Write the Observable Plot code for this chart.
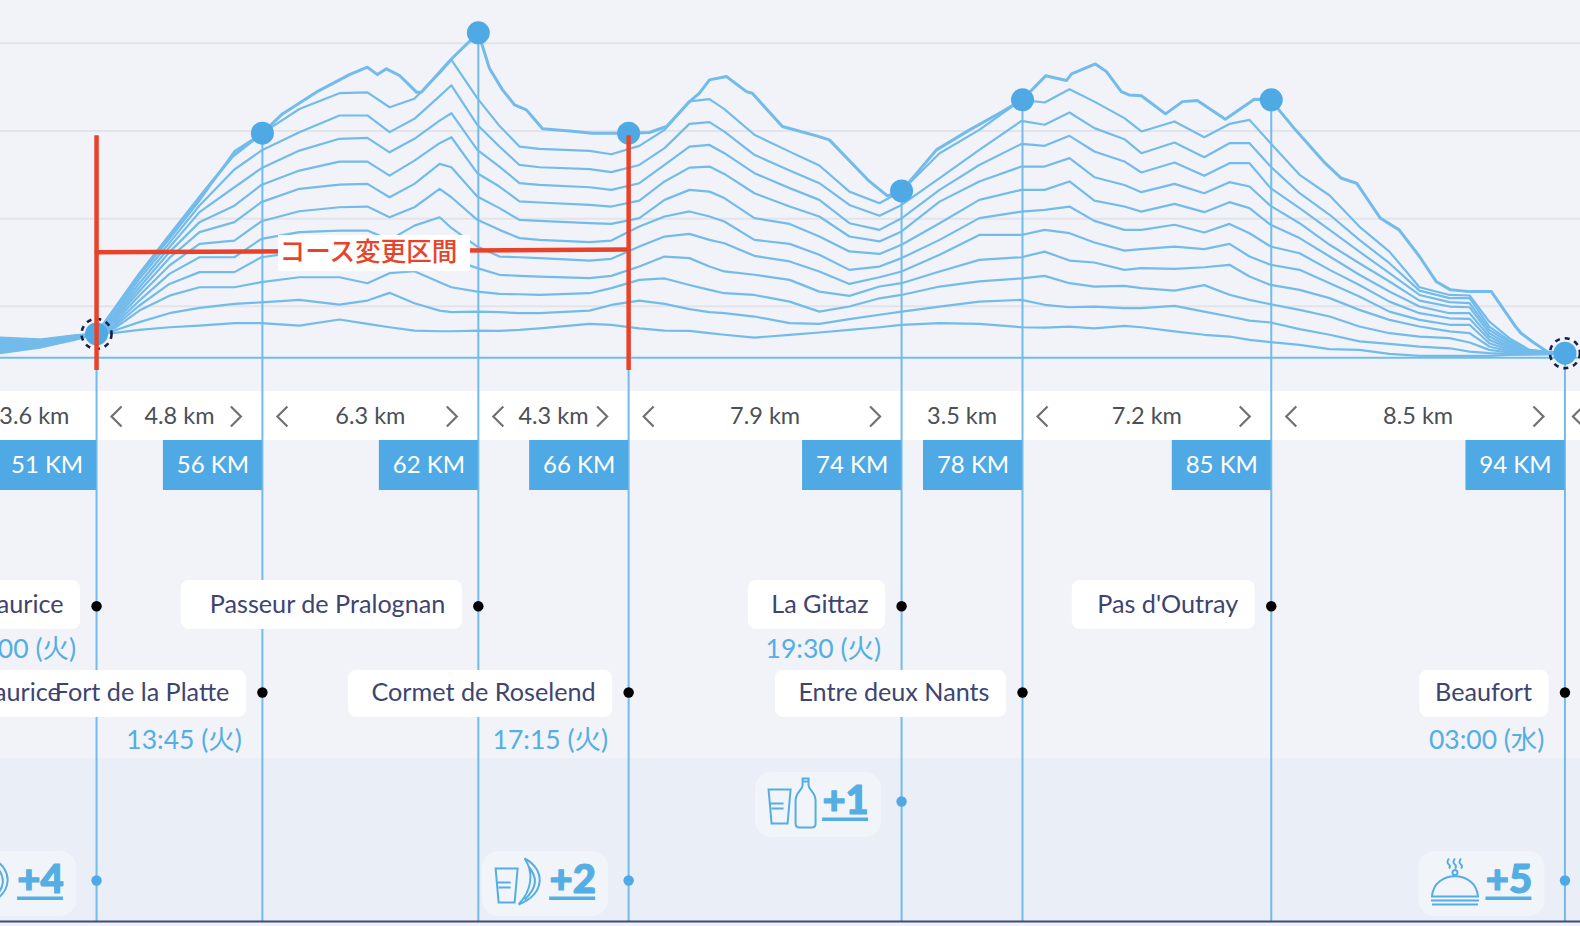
<!DOCTYPE html>
<html lang="ja">
<head>
<meta charset="utf-8">
<script src="https://cdn.jsdelivr.net/npm/d3@7"></script>
<script src="https://cdn.jsdelivr.net/npm/@observablehq/plot@0.6"></script>
<style>
html,body{margin:0;padding:0;background:#f1f3f8;overflow:hidden}
svg{display:block}
</style>
</head>
<body>
<script>
// ---------- course data ----------
const stationKm   = [51, 55.8, 62.05, 66.4, 74.3, 77.8, 85, 93.5];
const stationTags = ["51 KM","56 KM","62 KM","66 KM","74 KM","78 KM","85 KM","94 KM"];
const segmentKm   = ["3.6 km","4.8 km","6.3 km","4.3 km","7.9 km","3.5 km","7.2 km","8.5 km"];
const segmentHasArrows = [false,true,true,true,true,false,true,true];
const startKm = 47.4;

const gridElev = [2500, 2000, 1500, 1000];
const baseElev = 707;

const peakKm   = [55.8, 62.05, 66.4, 74.3, 77.8, 85];
const peakElev = [1987, 2559, 1987, 1658, 2177, 2177];
const endKm    = [51, 93.5];
const endElev  = [843, 733];

// top line, read on its own grid
const topKm = [48.19,49.35,50.36,51,51.52,52.24,53.11,53.98,54.93,55.8,56.38,57.36,58.32,58.84,59.13,59.39,59.77,60.26,60.4,61.27,62.05,62.37,62.75,63.1,63.44,63.73,63.91,64.69,65.35,66.4,67,67.5,68.16,68.45,68.74,69.23,69.81,69.98,70.85,71.84,72.21,73.37,73.89,74.3,75.31,76.27,77.13,77.79,78.47,79.07,79.22,79.6,79.91,80.23,80.66,80.88,81.24,81.53,81.94,82.43,82.86,83.67,84.51,84.98,85.7,86.56,87.03,87.47,88.16,88.7,89.29,89.77,90.19,90.74,91.37,92.07,92.23,92.55,92.98,93.5];
const topElev = [820,809,833,843,985,1185,1404,1622,1854,1987,2097,2221,2321,2363,2321,2354,2316,2221,2221,2410,2559,2357,2234,2148,2120,2054,2012,2000,1987,1987,1991,2025,2167,2215,2291,2310,2224,2215,2025,1972,1949,1712,1630,1658,1892,2006,2101,2177,2314,2287,2325,2357,2382,2338,2224,2205,2200,2158,2097,2167,2173,2067,2181,2177,2006,1816,1730,1702,1502,1436,1284,1142,1094,1084,1084,885,847,800,742,733];

// remaining ridge lines, read on a shared grid
const ridgeKm = [48.19,49.35,50.36,51,51.52,52.24,53.11,53.98,54.99,55.77,56.87,58.03,58.84,59.48,60.2,60.93,61.27,62.02,62.66,63.24,63.82,65.27,65.9,66.71,67.44,68.16,68.74,69.17,70.04,71.06,71.92,72.79,73.66,74.3,75.4,76.55,77.77,78.44,79.16,79.88,80.75,81.24,82.2,83.06,83.79,84.37,84.98,85.82,86.69,87.55,88.42,89.29,90.16,90.74,91.31,91.89,92.47,93.49];
const ridge2  = [813,807,832,843,976,1176,1385,1603,1884,1983,2125,2215,2220,2135,2183,2329,2405,2187,2029,1911,1898,1886,1867,1915,2006,2168,2181,2124,1978,1882,1803,1654,1588,1658,1873,2006,2177,2162,2238,2167,2073,1997,2054,1964,2040,2063,1930,1750,1632,1455,1312,1109,1065,1062,913,819,752,729];
const ridge3  = [805,803,830,843,957,1157,1362,1575,1780,1888,1993,2088,2088,1993,2069,2198,2260,2035,1911,1806,1793,1782,1765,1806,1902,2040,2050,1996,1864,1774,1702,1578,1516,1578,1731,1892,2057,2035,2105,2016,1953,1873,1934,1850,1930,1930,1797,1645,1522,1379,1246,1090,1047,1047,885,805,750,729];
const ridge4  = [797,799,828,843,948,1132,1337,1537,1679,1787,1888,1955,1960,1878,1955,2059,2101,1892,1797,1702,1692,1679,1664,1702,1806,1911,1920,1873,1759,1674,1607,1474,1436,1502,1664,1806,1926,1915,1972,1883,1826,1763,1820,1744,1816,1816,1674,1560,1436,1312,1189,1065,1024,1018,866,794,746,729];
const ridge5  = [790,796,826,843,934,1109,1309,1480,1574,1692,1774,1825,1825,1745,1831,1930,1964,1759,1683,1598,1592,1578,1569,1603,1712,1791,1797,1755,1645,1569,1512,1398,1370,1427,1597,1712,1797,1797,1845,1736,1692,1651,1698,1645,1708,1683,1573,1474,1351,1246,1142,1033,999,995,847,782,743,729];
const ridge6  = [780,792,824,843,923,1086,1276,1423,1480,1594,1670,1694,1698,1622,1698,1812,1793,1626,1560,1493,1487,1474,1470,1503,1607,1664,1654,1617,1503,1470,1398,1313,1299,1351,1474,1607,1664,1664,1712,1603,1569,1540,1584,1537,1594,1560,1465,1389,1284,1180,1085,999,961,961,828,771,741,729];
const ridge7  = [773,788,822,843,910,1062,1233,1356,1375,1485,1542,1565,1569,1508,1565,1670,1622,1493,1436,1389,1379,1366,1375,1455,1512,1541,1512,1484,1379,1356,1294,1208,1227,1275,1379,1503,1540,1550,1569,1487,1436,1436,1465,1421,1470,1417,1341,1303,1208,1122,1027,961,932,929,809,762,739,729];
const ridge8  = [765,784,820,843,896,1033,1185,1280,1280,1385,1423,1432,1432,1379,1460,1508,1447,1341,1284,1280,1275,1261,1271,1341,1398,1413,1379,1360,1288,1256,1199,1128,1166,1199,1294,1407,1407,1436,1417,1364,1318,1326,1341,1326,1356,1284,1237,1208,1132,1056,970,923,895,895,790,752,737,729];
const ridge9  = [758,780,816,843,885,1005,1128,1195,1195,1280,1309,1299,1309,1328,1375,1347,1270,1218,1180,1174,1170,1161,1174,1227,1284,1275,1227,1199,1180,1151,1084,1060,1113,1132,1199,1265,1280,1312,1261,1250,1208,1218,1214,1223,1237,1170,1122,1094,1047,980,923,885,857,847,771,743,735,729];
const ridge10 = [750,776,815,843,875,976,1061,1109,1109,1138,1166,1166,1132,1189,1200,1138,1109,1084,1071,1069,1065,1075,1104,1151,1159,1122,1094,1075,1065,1027,970,999,1046,1065,1113,1142,1160,1174,1132,1113,1117,1104,1090,1121,1066,1037,1012,980,942,885,847,828,819,794,752,737,733,729];
const ridge11 = [742,771,813,843,862,910,961,991,1014,1023,1037,1010,1033,1077,1018,976,967,970,967,961,961,976,1008,1033,1014,984,967,961,942,904,900,927,952,970,999,1027,1037,1009,995,999,990,990,1003,970,942,919,908,870,838,800,786,771,761,742,733,729,727,729];
const ridge12 = [733,765,809,843,849,866,881,890,904,904,890,925,900,881,862,858,858,862,860,866,875,900,894,875,862,860,847,838,822,838,851,866,881,894,904,900,881,879,885,875,889,881,857,838,828,809,796,780,756,752,729,718,718,718,718,723,725,729];
const ridges = [ridge2,ridge3,ridge4,ridge5,ridge6,ridge7,ridge8,ridge9,ridge10,ridge11,ridge12];

// annotation
const noteText = "コース変更区間";
const noteKm = [51, 66.4];
const noteHeadElev = [1308, 1324];

// place labels
const placeNames = ["aurice","Passeur de Pralognan","La Gittaz","Pas d'Outray","aurice","Fort de la Platte","Cormet de Roselend","Entre deux Nants","Beaufort"];
const placeKm    = [51,62.05,74.3,85,50.92,55.8,66.4,77.8,93.5];
const placeRow   = [0,0,0,0,1,1,1,1,1];
const placeTimes = ["00 (火)","","19:30 (火)","","","13:45 (火)","17:15 (火)","","03:00 (水)"];

// aid stations
const aidKm    = [51, 66.4, 74.3, 93.5];
const aidCount = ["+4","+2","+1","+5"];
const aidRow   = [1, 1, 0, 1];
const aidIcons = [["banana"],["glass","banana"],["glass","bottle"],["cloche"]];

// ---------- layout ----------
const W = 1580, chartH = 380, panelH = 546;
const xDomain = [48.22, 93.95];
const pxPerKm = W / (xDomain[1] - xDomain[0]);
const off = (km, px) => km + px / pxPerKm;
const placeBoxWidth = [300,281,137,183,300,191,264,231,129];
const labelRowY = [[580,629],[670,717]];
const labelRowCentre = [605.8, 692];
const labelTextY = [604.3, 692.5];
const timeRowY = [649.5, 739.6];
const aidRowY = [800, 879];
const iconOffset = {glass:-122, banana:-99, bottle:-96, cloche:-110};

// ---------- colours ----------
const blue = "#4fa9e4", line = "#72bbeb", pale = "#eaeef6", red = "#e8432a", ink = "#3e4470", grey = "#4b5056", tint = "#55aee3";
const sans = 'Lato, "Noto Sans CJK JP", sans-serif';

// ---------- custom icon symbols ----------
const chevL = {draw(c){c.moveTo(5,-10);c.lineTo(-5,0);c.lineTo(5,10);}};
const chevR = {draw(c){c.moveTo(-5,-10);c.lineTo(5,0);c.lineTo(-5,10);}};
const icons = {
  glass:{draw(c){c.moveTo(-11,-13);c.lineTo(11,-13);c.lineTo(8,21);c.lineTo(-8,21);c.closePath();
                 c.moveTo(-9,1);c.lineTo(4,1);c.moveTo(-8,6);c.lineTo(4,6);}},
  banana:{draw(c){c.moveTo(-5,-23);c.bezierCurveTo(16,-12,16,12,-11,23);c.bezierCurveTo(3,8,4,-10,-5,-23);c.closePath();
                  c.moveTo(-1,-15);c.bezierCurveTo(8,-4,8,6,-5,18);}},
  bottle:{draw(c){c.moveTo(-3,-24);c.lineTo(3,-24);c.lineTo(3,-17);c.bezierCurveTo(3,-13,10,-10,10,-2);c.lineTo(10,21);c.quadraticCurveTo(10,25,6,25);c.lineTo(-6,25);c.quadraticCurveTo(-10,25,-10,21);c.lineTo(-10,-2);c.bezierCurveTo(-10,-10,-3,-13,-3,-17);c.closePath();
                  c.moveTo(-4,-21);c.lineTo(4,-21);}},
  cloche:{draw(c){c.moveTo(-23,15);c.bezierCurveTo(-21,-12,21,-12,23,15);c.closePath();
                  c.moveTo(2.5,-9);c.arc(0,-9,2.5,0,Math.PI*2);
                  c.moveTo(-24,19);c.lineTo(24,19);c.moveTo(-23,23);c.lineTo(23,23);
                  for(const s of [-6,0,6]){c.moveTo(s,-23);c.quadraticCurveTo(s-3,-19,s,-17);c.quadraticCurveTo(s+2,-15,s,-13);}}}
};

// ---------- derived tables ----------
const stations = stationKm.map((km,i)=>({km, tag:stationTags[i]}));
const edges = [startKm, ...stationKm];
const segments = segmentKm.map((label,i)=>({label, mid:(edges[i]+edges[i+1])/2, from:edges[i], to:edges[i+1], arrows:segmentHasArrows[i]}));
const peaks = peakKm.map((km,i)=>({km, elev:peakElev[i]}));
const ends = endKm.map((km,i)=>({km, elev:endElev[i]}));
const topLine = topKm.map((km,i)=>({km, elev:topElev[i]}));
const ridgeRows = ridges.flatMap((vals,s)=>vals.map((elev,i)=>({km:ridgeKm[i], elev, s})));
const dropLines = [...ends.slice(0,1), ...peaks, ...ends.slice(1)];
const places = placeNames.map((name,i)=>({name, km:placeKm[i], row:placeRow[i], time:placeTimes[i], w:placeBoxWidth[i]}));
const aids = aidKm.map((km,i)=>({km, count:aidCount[i], row:aidRow[i]}));
const aidGlyphs = aids.flatMap((a,i)=>aidIcons[i].map(k=>({km:off(a.km,iconOffset[k]), kind:k, y:aidRowY[a.row]+2})));

const yChart = 2743.4 - 380 * 5.7;

// ---------- elevation chart ----------
const chart = Plot.plot({
  width:W, height:chartH, margin:0,
  style:{background:"transparent"},
  x:{domain:xDomain, range:[0,W], axis:null},
  y:{domain:[yChart,2743.4], range:[chartH,0], axis:null},
  marks:[
    Plot.ruleY(gridElev,{stroke:"#e2e4e9",strokeWidth:2}),
    Plot.ruleX(dropLines,{x:"km",y1:"elev",y2:yChart,stroke:line,strokeWidth:2}),
    Plot.ruleY([baseElev],{stroke:line,strokeWidth:2}),
    Plot.line(ridgeRows,{x:"km",y:"elev",z:"s",stroke:line,strokeWidth:2.2,curve:"linear"}),
    Plot.line(topLine,{x:"km",y:"elev",stroke:line,strokeWidth:3,curve:"linear"}),
    Plot.dot(peaks,{x:"km",y:"elev",r:11.5,fill:blue}),
    Plot.dot(ends,{x:"km",y:"elev",r:11.5,fill:blue}),
    Plot.dot(ends,{x:"km",y:"elev",r:15,fill:"none",stroke:"#14204a",strokeWidth:2.6,strokeDasharray:"5 5"}),
    Plot.ruleX(noteKm,{x:d=>d,y1:634,y2:1973,stroke:red,strokeWidth:4.5}),
    Plot.line(noteKm.map((km,i)=>({km,elev:noteHeadElev[i]})),{x:"km",y:"elev",stroke:red,strokeWidth:4.5}),
    Plot.rect([noteText],{x1:off(xDomain[0],278),x2:off(xDomain[0],470),y1:1198,y2:1404,fill:"#fff"}),
    Plot.text([noteText],{x:off(xDomain[0],368),y:1307,text:d=>d,fill:red,fontSize:25.6,fontWeight:500,fontFamily:'"Noto Sans CJK JP", sans-serif'})
  ]
});

// ---------- schedule panel (y is page pixel row) ----------
const panel = Plot.plot({
  width:W, height:panelH, margin:0,
  style:{background:"transparent"},
  x:{domain:xDomain, range:[0,W], axis:null},
  y:{domain:[380,926], range:[0,panelH], axis:null},
  marks:[
    Plot.rect([0],{x1:xDomain[0],x2:xDomain[1],y1:758.5,y2:921,fill:pale}),
    Plot.rect([0],{x1:xDomain[0],x2:xDomain[1],y1:391,y2:440,fill:"#fff"}),
    Plot.ruleX(stations,{x:"km",y1:380,y2:921,stroke:line,strokeWidth:2}),
    Plot.rect(stations,{x1:d=>off(d.km,-99),x2:"km",y1:440,y2:490,fill:blue}),
    Plot.text(stations,{x:"km",y:465,text:"tag",dx:-49.5,fill:"#fff",fontSize:24,fontFamily:sans}),
    Plot.text(segments,{x:"mid",y:415.5,text:"label",fill:grey,fontSize:23.5,fontFamily:sans}),
    Plot.dot(segments.filter(d=>d.arrows),{x:d=>off(d.from,20),y:416,r:3,symbol:chevL,fill:"none",stroke:"#6e7275",strokeWidth:2.2}),
    Plot.dot(segments.filter(d=>d.arrows),{x:d=>off(d.to,-26.5),y:416,r:3,symbol:chevR,fill:"none",stroke:"#6e7275",strokeWidth:2.2}),
    Plot.dot([stationKm[7]],{x:d=>off(d,13),y:416,r:3,symbol:chevL,fill:"none",stroke:"#6e7275",strokeWidth:2.2}),

    Plot.dot(places.filter(d=>d.km>51),{x:"km",y:d=>labelRowCentre[d.row],r:5.2,fill:"#000"}),
    Plot.dot([stationKm[0]],{x:d=>d,y:labelRowCentre[0],r:5.2,fill:"#000"}),
    Plot.rect(places,{x1:d=>off(d.km,-16-d.w),x2:d=>off(d.km,-16),y1:d=>labelRowY[d.row][0],y2:d=>labelRowY[d.row][1],fill:"#fff",rx:8}),
    Plot.text(places,{x:"km",y:d=>labelTextY[d.row],text:"name",dx:-33,textAnchor:"end",fill:ink,fontSize:25.2,fontFamily:sans}),
    Plot.text(places.filter(d=>d.time),{x:"km",y:d=>timeRowY[d.row],text:"time",dx:-20.5,textAnchor:"end",fill:tint,fontSize:26.5,fontFamily:sans}),

    Plot.rect(aids,{x1:d=>off(d.km,-146),x2:d=>off(d.km,-20),y1:d=>aidRowY[d.row]-28,y2:d=>aidRowY[d.row]+37,fill:"#f1f4f9",rx:16}),
    Plot.dot(aids,{x:"km",y:d=>aidRowY[d.row]+1,r:5.2,fill:blue}),
    ...Object.keys(icons).map(k=>Plot.dot(aidGlyphs.filter(g=>g.kind===k),{x:"km",y:"y",r:3,symbol:icons[k],fill:"none",stroke:tint,strokeWidth:2})),
    Plot.text(aids,{x:"km",y:d=>aidRowY[d.row]+1,text:"count",dx:-56,fill:tint,stroke:tint,strokeWidth:1.2,fontSize:40,fontWeight:900,fontFamily:sans}),
    Plot.rect(aids,{x1:d=>off(d.km,-79),x2:d=>off(d.km,-33),y1:d=>aidRowY[d.row]+17.5,y2:d=>aidRowY[d.row]+21,fill:tint}),

    Plot.ruleY([921],{stroke:"#3e4a7c",strokeWidth:2})
  ]
});

document.body.append(chart, panel);
</script>
</body>
</html>
